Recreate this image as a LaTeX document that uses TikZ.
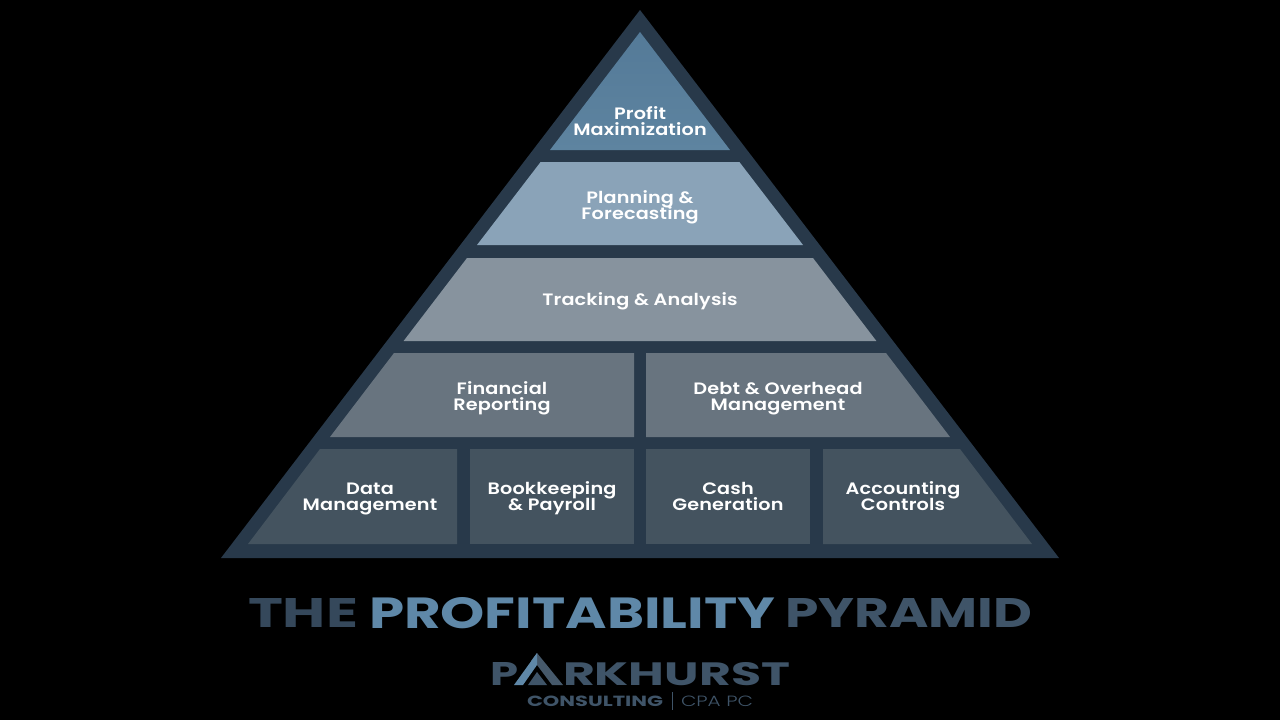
\documentclass[tikz,border=0pt]{standalone}
\usepackage{fontspec}
\usepackage{graphicx}
\setmainfont{Poppins}
\newfontfamily\lblfont[FakeStretch=1.165,LetterSpace=1.0]{Poppins SemiBold}
\newfontfamily\ttlfont{Poppins}[UprightFont=* Bold]
\newfontfamily\lightfont{Poppins}[UprightFont=* Light]
\definecolor{frame}{HTML}{28394A}
\definecolor{tierA}{HTML}{5E84A0}
\definecolor{tierAtop}{HTML}{547A98}
\definecolor{tierB}{HTML}{8AA3B8}
\definecolor{tierC}{HTML}{87939E}
\definecolor{tierD}{HTML}{68747F}
\definecolor{tierE}{HTML}{44535F}
\definecolor{ttlDark}{HTML}{35485B}
\definecolor{ttlLight}{HTML}{5F88A8}
\definecolor{logoDark}{HTML}{3F5468}
\definecolor{logoMid}{HTML}{46596B}
\tikzset{
  lbl/.style={text=white,font=\lblfont\fontsize{16.5}{16}\selectfont,align=center,inner sep=0pt,anchor=center},
  word/.style={inner sep=0pt,anchor=north west,outer sep=0pt}
}
\newcommand{\fitword}[3]{\resizebox{#1pt}{#2pt}{#3}}
\newcommand{\ltx}[1]{\rule[-4pt]{0pt}{16pt}\smash{#1}}
\begin{document}
\begin{tikzpicture}[x=1pt,y=-1pt]
\useasboundingbox (0,0) rectangle (1280,720);
\fill[black] (0,0) rectangle (1280,720);
% frame
\fill[frame] (640,10) -- (1059,558) -- (221,558) -- cycle;
% tiers
\shade[top color=tierAtop,bottom color=tierA] (640,32) -- (730,150) -- (550,150) -- cycle;
\fill[tierB] (540.6,162) -- (739.4,162) -- (803,245) -- (477,245) -- cycle;
\fill[tierC] (467,258) -- (813,258) -- (876.4,341) -- (403.6,341) -- cycle;
\fill[tierD] (394,353) -- (634,353) -- (634,437) -- (330,437) -- cycle;
\fill[tierD] (646,353) -- (886,353) -- (950,437) -- (646,437) -- cycle;
\fill[tierE] (320,449) -- (457,449) -- (457,544) -- (248,544) -- cycle;
\fill[tierE] (470,449) rectangle (634,544);
\fill[tierE] (646,449) rectangle (810,544);
\fill[tierE] (823,449) -- (960,449) -- (1032,544) -- (823,544) -- cycle;
% labels
\node[lbl] (profit) at (640,123) {\ltx{Profit}\\\ltx{Maximization}};
\node[lbl] (plan) at (640,207) {\ltx{Planning \&}\\\ltx{Forecasting}};
\node[lbl] (track) at (640,301) {\ltx{Tracking \& Analysis}};
\node[lbl] (fin) at (502,398) {\ltx{Financial}\\\ltx{Reporting}};
\node[lbl] (debt) at (778,398) {\ltx{Debt \& Overhead}\\\ltx{Management}};
\node[lbl] (data) at (370,498) {\ltx{Data}\\\ltx{Management}};
\node[lbl] (book) at (552,498) {\ltx{Bookkeeping}\\\ltx{\& Payroll}};
\node[lbl] (cash) at (728,498) {\ltx{Cash}\\\ltx{Generation}};
\node[lbl] (ctrl) at (903,498) {\ltx{Accounting}\\\ltx{Controls}};
% title
\node[word,text=ttlDark] (the) at (248,598) {\fitword{110}{29}{\ttlfont THE}};
\node[word,text=ttlLight] (prof) at (369,597) {\fitword{406}{31}{\ttlfont PROFITABILITY}};
\node[word,text=logoDark] (pyr) at (785,598) {\fitword{247}{29}{\ttlfont PYRAMID}};
% logo
\node[word,text=logoDark] (logoP) at (490,662) {\fitword{28}{23}{\ttlfont P}};
\fill[logoMid] (537,653) -- (563,685) -- (552,685) -- (537,665) -- (531,661) -- cycle;
\fill[ttlLight] (537,653) -- (537,665) -- (523,685) -- (514,685) -- cycle;
\fill[logoDark] (537,672) -- (547,685) -- (528,685) -- cycle;
\node[word,text=logoDark] (logoR) at (563,662) {\fitword{227}{23}{\ttlfont RKHURST}};
\node[word,text=logoDark] (cons) at (527,696) {\fitword{136}{10.5}{\ttlfont CONSULTING}};
\draw[logoDark,line width=0.8pt] (672,692) -- (672,710);
\node[word,text=logoDark] (cpa) at (681,696) {\fitword{72}{10.5}{\lightfont CPA PC}};
\end{tikzpicture}
\end{document}
